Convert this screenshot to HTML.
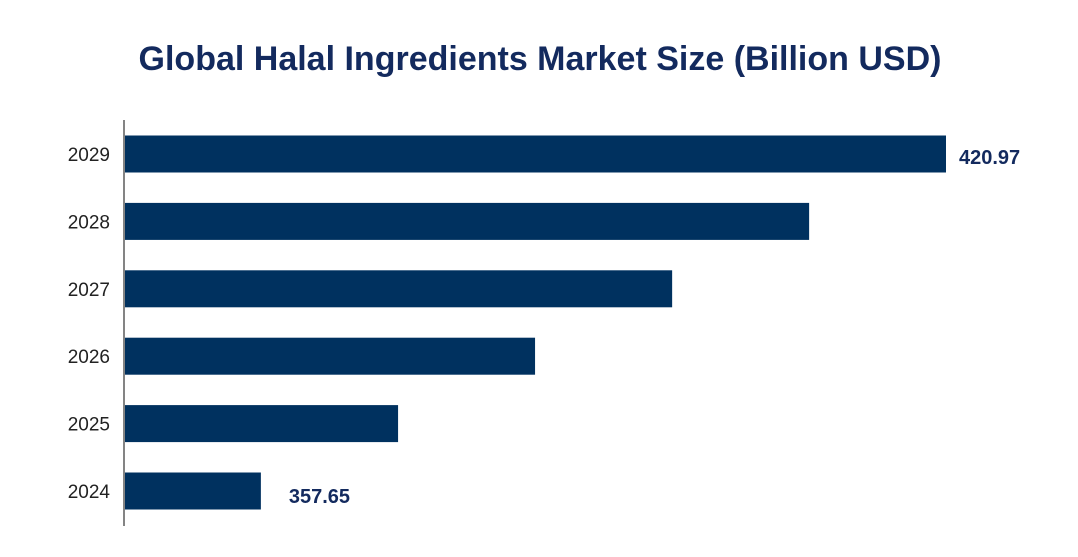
<!DOCTYPE html>
<html><head><meta charset="utf-8"><style>
body{margin:0;background:#fff;}
svg{display:block;}
</style></head><body>
<svg width="1078" height="557" viewBox="0 0 1078 557">
<text x="540" y="70" text-anchor="middle" font-family="Liberation Sans, sans-serif" font-weight="bold" font-size="34" fill="#132a5e">Global Halal Ingredients Market Size (Billion USD)</text>
<line x1="124" y1="120" x2="124" y2="526" stroke="#333" stroke-width="1.2"/>
<g id="bars"></g>
</svg>
<script>
const years = ["2029","2028","2027","2026","2025","2024"];
const values = [420.97, 408.32, 395.66, 382.99, 370.33, 357.65];
const labels = ["420.97","","","","","357.65"];
const xMin = 345, xMax = 420.97;
const x0 = 124, x1 = 946;
function xScale(v){return x0 + (v - xMin) / (xMax - xMin) * (x1 - x0);}
function yCenter(i){return 154 + i * 67.4;}
const g = document.getElementById('bars');
const NS = 'http://www.w3.org/2000/svg';
years.forEach((yr, i) => {
  const r = document.createElementNS(NS, 'rect');
  r.setAttribute('x', x0 + 1);
  r.setAttribute('y', yCenter(i) - 18.5);
  r.setAttribute('width', xScale(values[i]) - x0 - 1);
  r.setAttribute('height', 37);
  r.setAttribute('fill', '#00315f');
  
  
  g.appendChild(r);
  const t = document.createElementNS(NS, 'text');
  t.setAttribute('x', 110);
  t.setAttribute('y', yCenter(i) + 7);
  t.setAttribute('text-anchor', 'end');
  t.setAttribute('font-family', 'Liberation Sans, sans-serif');
  t.setAttribute('font-size', '19');
  t.setAttribute('fill', '#222');
  t.textContent = yr;
  
  
  g.appendChild(t);
  if (labels[i]) {
    const v = document.createElementNS(NS, 'text');
    v.setAttribute('x', xScale(values[i]) + (i === 5 ? 28 : 13));
    v.setAttribute('y', yCenter(i) + (i === 5 ? 12 : 10));
    v.setAttribute('font-family', 'Liberation Sans, sans-serif');
    v.setAttribute('font-weight', 'bold');
    v.setAttribute('font-size', '20');
    v.setAttribute('fill', '#132a5e');
    v.textContent = labels[i];
    
    
    g.appendChild(v);
  }
});
</script>
</body></html>
